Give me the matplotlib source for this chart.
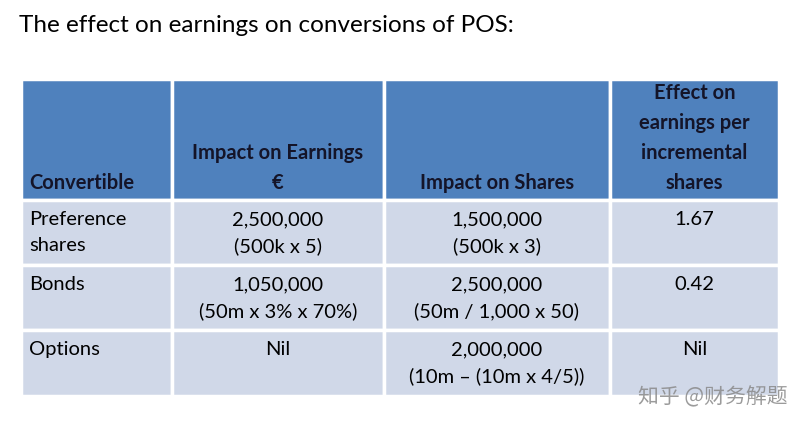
import matplotlib
matplotlib.use("Agg")
import matplotlib.pyplot as plt
from matplotlib.patches import Rectangle

title = "The effect on earnings on conversions of POS:"
headers = ["Convertible", "Impact on Earnings\n€", "Impact on Shares", "Effect on\nearnings per\nincremental\nshares"]
col1 = ["Preference\nshares", "Bonds", "Options"]
col2 = ["2,500,000\n(500k x 5)", "1,050,000\n(50m x 3% x 70%)", "Nil"]
col3 = ["1,500,000\n(500k x 3)", "2,500,000\n(50m / 1,000 x 50)", "2,000,000\n(10m – (10m x 4/5))"]
col4 = ["1.67", "0.42", "Nil"]

fig = plt.figure(figsize=(8.07, 4.29), dpi=100)
ax = fig.add_axes([0, 0, 1, 1])
ax.set_xlim(0, 807); ax.set_ylim(429, 0); ax.axis("off")
fam = "Lato"
ax.text(19, 26, title, fontsize=17.5, family=fam, va="center", ha="left", color="black")

xs = [21, 172, 384, 610, 779]
ys = [79, 200, 265, 330, 396]
hdr, body = "#4F81BD", "#D0D8E8"
for r in range(4):
    for c in range(4):
        ax.add_patch(Rectangle((xs[c], ys[r]), xs[c+1]-xs[c], ys[r+1]-ys[r],
                               facecolor=hdr if r == 0 else body, edgecolor="white", lw=2.5))
hc = "#141428"
ls = 1.62
for c, h in enumerate(headers):
    if c == 0:
        ax.text(xs[0]+8, 193, h, ha="left", va="bottom", fontsize=14.5, family=fam,
                weight="bold", color=hc, linespacing=ls)
    else:
        ax.text((xs[c]+xs[c+1])/2, 193, h, ha="center", va="bottom", fontsize=14.5, family=fam,
                weight="bold", color=hc, linespacing=ls)
cols = [col1, col2, col3, col4]
for r in range(3):
    yt = ys[r+1] + 11
    for c in range(4):
        if c == 0:
            ax.text(xs[0]+8, yt, cols[c][r], ha="left", va="top", fontsize=14.5, family=fam, linespacing=ls, color="black")
        else:
            ax.text((xs[c]+xs[c+1])/2, yt, cols[c][r], ha="center", va="top", fontsize=14.5, family=fam, linespacing=ls, color="black")

ax.text(788, 397, "知乎 @财务解题", ha="right", va="center", fontsize=15,
        family="Noto Sans CJK JP", color="#8a8a8a", alpha=0.85)
fig.savefig("out.png", dpi=100)
